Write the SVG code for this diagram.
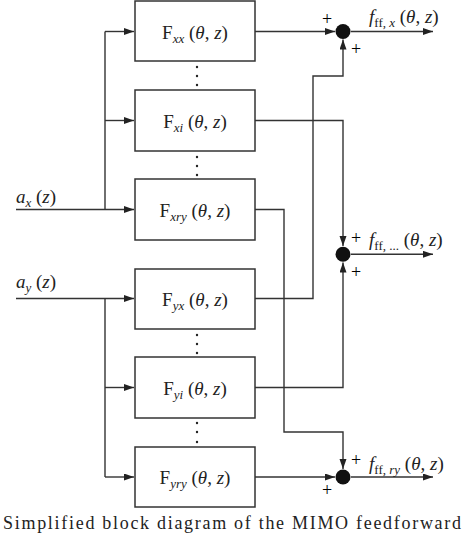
<svg xmlns="http://www.w3.org/2000/svg" width="474" height="534" viewBox="0 0 474 534">
<style>
.box{fill:#fff;stroke:#333;stroke-width:1.5}
.ln{fill:none;stroke:#333;stroke-width:1.4}
.arr{marker-end:url(#ah)}
text{font-family:"Liberation Serif","Times New Roman",serif;fill:#222}
.t{font-size:19px}
.it{font-style:italic}
.sub{font-size:13px;font-style:italic}
.pl{font-size:18px;fill:#000}
.dot{fill:#222}
.sum{fill:#111}
</style>
<defs>
<marker id="ah" markerUnits="userSpaceOnUse" markerWidth="11" markerHeight="8" refX="10" refY="3.5" orient="auto">
<path d="M0,0 L10,3.5 L0,7 z" fill="#222"/>
</marker>
</defs>
<rect width="474" height="534" fill="#fff"/>
<g id="connectors">
<path class="ln arr" d="M16,209.5 H134"/>
<path class="ln" d="M105,31.5 V209.5"/>
<path class="ln arr" d="M105,31.5 H134"/>
<path class="ln arr" d="M105,120.5 H134"/>
<path class="ln arr" d="M16,298.5 H134"/>
<path class="ln" d="M105,298.5 V477"/>
<path class="ln arr" d="M105,387.5 H134"/>
<path class="ln arr" d="M105,477 H134"/>
<path class="ln arr" d="M255,31.5 H335"/>
<path class="ln arr" d="M255,298.5 H313 V76 H343 V39.5"/>
<path class="ln arr" d="M255,120.5 H343 V246"/>
<path class="ln arr" d="M255,387.5 H343 V262.5"/>
<path class="ln arr" d="M255,209.5 H284 V432 H343 V469"/>
<path class="ln arr" d="M255,477 H335"/>
<path class="ln arr" d="M351,31.5 H433"/>
<path class="ln arr" d="M351,254.3 H433"/>
<path class="ln arr" d="M351,477 H433"/>
</g>
<g id="F_xx"><rect class="box" x="135" y="1" width="120" height="60"/>
<text class="t" x="195" y="38.5" text-anchor="middle">F<tspan class="sub" dy="4">xx</tspan><tspan dy="-4"> (</tspan><tspan class="it">θ</tspan>, <tspan class="it">z</tspan>)</text></g>
<g id="F_xi"><rect class="box" x="135" y="90" width="120" height="61"/>
<text class="t" x="195" y="127.5" text-anchor="middle">F<tspan class="sub" dy="4">xi</tspan><tspan dy="-4"> (</tspan><tspan class="it">θ</tspan>, <tspan class="it">z</tspan>)</text></g>
<g id="F_xry"><rect class="box" x="135" y="179" width="120" height="61"/>
<text class="t" x="195" y="216.5" text-anchor="middle">F<tspan class="sub" dy="4">xry</tspan><tspan dy="-4"> (</tspan><tspan class="it">θ</tspan>, <tspan class="it">z</tspan>)</text></g>
<g id="F_yx"><rect class="box" x="135" y="269" width="120" height="60"/>
<text class="t" x="195" y="305.5" text-anchor="middle">F<tspan class="sub" dy="4">yx</tspan><tspan dy="-4"> (</tspan><tspan class="it">θ</tspan>, <tspan class="it">z</tspan>)</text></g>
<g id="F_yi"><rect class="box" x="135" y="357" width="120" height="61"/>
<text class="t" x="195" y="394.5" text-anchor="middle">F<tspan class="sub" dy="4">yi</tspan><tspan dy="-4"> (</tspan><tspan class="it">θ</tspan>, <tspan class="it">z</tspan>)</text></g>
<g id="F_yry"><rect class="box" x="135" y="447" width="120" height="60"/>
<text class="t" x="195" y="484" text-anchor="middle">F<tspan class="sub" dy="4">yry</tspan><tspan dy="-4"> (</tspan><tspan class="it">θ</tspan>, <tspan class="it">z</tspan>)</text></g>
<g id="dots">
<circle class="dot" cx="197" cy="67" r="1.2"/><circle class="dot" cx="197" cy="76" r="1.2"/><circle class="dot" cx="197" cy="85" r="1.2"/>
<circle class="dot" cx="197" cy="157" r="1.2"/><circle class="dot" cx="197" cy="166" r="1.2"/><circle class="dot" cx="197" cy="175" r="1.2"/>
<circle class="dot" cx="197" cy="335" r="1.2"/><circle class="dot" cx="197" cy="344" r="1.2"/><circle class="dot" cx="197" cy="353" r="1.2"/>
<circle class="dot" cx="197" cy="423" r="1.2"/><circle class="dot" cx="197" cy="432" r="1.2"/><circle class="dot" cx="197" cy="442" r="1.2"/>
</g>
<g id="sum1"><circle class="sum" cx="343" cy="31.5" r="7.5"/>
<text class="pl" x="327" y="25" text-anchor="middle">+</text>
<text class="pl" x="356" y="55" text-anchor="middle">+</text></g>
<g id="sum2"><circle class="sum" cx="343" cy="254.3" r="7.5"/>
<text class="pl" x="356" y="244" text-anchor="middle">+</text>
<text class="pl" x="356" y="278" text-anchor="middle">+</text></g>
<g id="sum3"><circle class="sum" cx="343" cy="477" r="7.5"/>
<text class="pl" x="356" y="466" text-anchor="middle">+</text>
<text class="pl" x="327" y="496" text-anchor="middle">+</text></g>
<g id="inputs">
<text class="t" x="16" y="203"><tspan class="it">a</tspan><tspan class="sub" dy="4">x</tspan><tspan dy="-4"> (</tspan><tspan class="it">z</tspan>)</text>
<text class="t" x="16" y="288"><tspan class="it">a</tspan><tspan class="sub" dy="4">y</tspan><tspan dy="-4"> (</tspan><tspan class="it">z</tspan>)</text>
</g>
<g id="outputs">
<text class="t" x="369" y="23"><tspan class="it">f</tspan><tspan font-size="13" dy="4">ff, </tspan><tspan class="sub">x</tspan><tspan dy="-4"> (</tspan><tspan class="it">θ</tspan>, <tspan class="it">z</tspan>)</text>
<text class="t" x="369" y="246"><tspan class="it">f</tspan><tspan font-size="13" dy="4">ff, ...</tspan><tspan dy="-4"> (</tspan><tspan class="it">θ</tspan>, <tspan class="it">z</tspan>)</text>
<text class="t" x="369" y="470"><tspan class="it">f</tspan><tspan font-size="13" dy="4">ff, </tspan><tspan class="sub">ry</tspan><tspan dy="-4"> (</tspan><tspan class="it">θ</tspan>, <tspan class="it">z</tspan>)</text>
</g>
<text x="3" y="529" font-size="18" textLength="458" lengthAdjust="spacing">Simplified block diagram of the MIMO feedforward</text>
</svg>
